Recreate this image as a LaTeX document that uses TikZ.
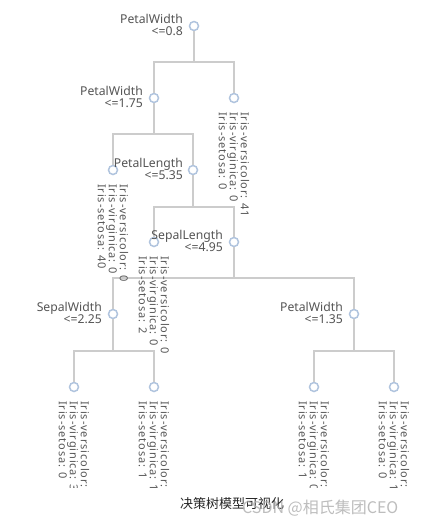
\documentclass[tikz,border=0pt]{standalone}
\usepackage{fontspec}
\setmainfont{Noto Sans}
\newfontfamily\leaffont[LetterSpace=8]{Noto Sans}
\newfontfamily\cjk{Noto Sans CJK SC}
\usetikzlibrary{calc}
\definecolor{edgegray}{HTML}{CCCCCC}
\definecolor{nodeblue}{HTML}{B0C4DE}
\definecolor{labelgray}{HTML}{555555}
\begin{document}
\begin{tikzpicture}[x=1pt,y=-1pt,
  tnode/.style={circle,draw=nodeblue,fill=white,line width=1.5pt,minimum size=9pt,inner sep=0pt},
  edge/.style={draw=edgegray,line width=1.5pt},
  lbl/.style={anchor=east,align=right,font=\fontsize{12.2}{12.5}\selectfont,text=labelgray,inner sep=0pt},
  leaftxt/.style={rotate=-90,anchor=west,align=left,font=\leaffont\fontsize{11}{11}\selectfont,text=labelgray,inner sep=0pt}]
\fill[white] (0,0) rectangle (442,528);
\useasboundingbox (0,0) rectangle (442,528);
% nodes
\node[tnode] (root) at (194,26) {};
\node[tnode] (pw175) at (154,98) {};
\node[tnode] (l1) at (234,98) {};
\node[tnode] (l2) at (113,170) {};
\node[tnode] (pl535) at (193,170) {};
\node[tnode] (l3) at (154,242) {};
\node[tnode] (sl495) at (234,242) {};
\node[tnode] (sw225) at (113,314) {};
\node[tnode] (pw135) at (354,314) {};
\node[tnode] (l4) at (74,387) {};
\node[tnode] (l5) at (154,387) {};
\node[tnode] (l6) at (314,387) {};
\node[tnode] (l7) at (394,387) {};
% edges
\foreach \p/\c/\m in {root/pw175/62, root/l1/62, pw175/l2/134, pw175/pl535/134,
  pl535/l3/207, pl535/sl495/207, sl495/sw225/278, sl495/pw135/278,
  sw225/l4/351, sw225/l5/351, pw135/l6/351, pw135/l7/351}{
  \path[edge] (\p.south) -- (\p |- 0,\m) -| (\c.north);
}
% labels of split nodes
\node[lbl] (root-l) at ($(root)+(-11,-1)$) {PetalWidth\\<=0.8};
\node[lbl] (pw175-l) at ($(pw175)+(-11,-1)$) {PetalWidth\\<=1.75};
\node[lbl] (pl535-l) at ($(pl535)+(-10,-1)$) {PetalLength\\<=5.35};
\node[lbl] (sl495-l) at ($(sl495)+(-11,-1)$) {SepalLength\\<=4.95};
\node[lbl] (sw225-l) at ($(sw225)+(-11,-1)$) {SepalWidth\\<=2.25};
\node[lbl] (pw135-l) at ($(pw135)+(-11,-1)$) {PetalWidth\\<=1.35};
% leaf texts
\begin{scope}
\clip (0,0) rectangle (442,487);
\node[leaftxt] (l1-t) at ($(l1)+(0,14)$) {Iris-versicolor: 41\\Iris-virginica: 0\\Iris-setosa: 0};
\node[leaftxt] (l2-t) at ($(l2)+(0,14)$) {Iris-versicolor: 0\\Iris-virginica: 0\\Iris-setosa: 40};
\node[leaftxt] (l3-t) at ($(l3)+(0,14)$) {Iris-versicolor: 0\\Iris-virginica: 0\\Iris-setosa: 2};
\node[leaftxt] (l4-t) at ($(l4)+(0,14)$) {Iris-versicolor: 2\\Iris-virginica: 3\\Iris-setosa: 0};
\node[leaftxt] (l5-t) at ($(l5)+(0,14)$) {Iris-versicolor: 0\\Iris-virginica: 1\\Iris-setosa: 1};
\node[leaftxt] (l6-t) at ($(l6)+(0,14)$) {Iris-versicolor: 1\\Iris-virginica: 0\\Iris-setosa: 1};
\node[leaftxt] (l7-t) at ($(l7)+(0,14)$) {Iris-versicolor: 0\\Iris-virginica: 1\\Iris-setosa: 0};
\end{scope}
% title and watermark
\node[font=\cjk\fontsize{13}{13}\selectfont,text=black!85] (title) at (232,504) {决策树模型可视化};
\node[font=\cjk\fontsize{16}{16}\selectfont,text=gray!60,opacity=0.85,anchor=west,inner sep=0pt] (wm) at (242,508) {CSDN @相氏集团CEO};
\end{tikzpicture}
\end{document}
